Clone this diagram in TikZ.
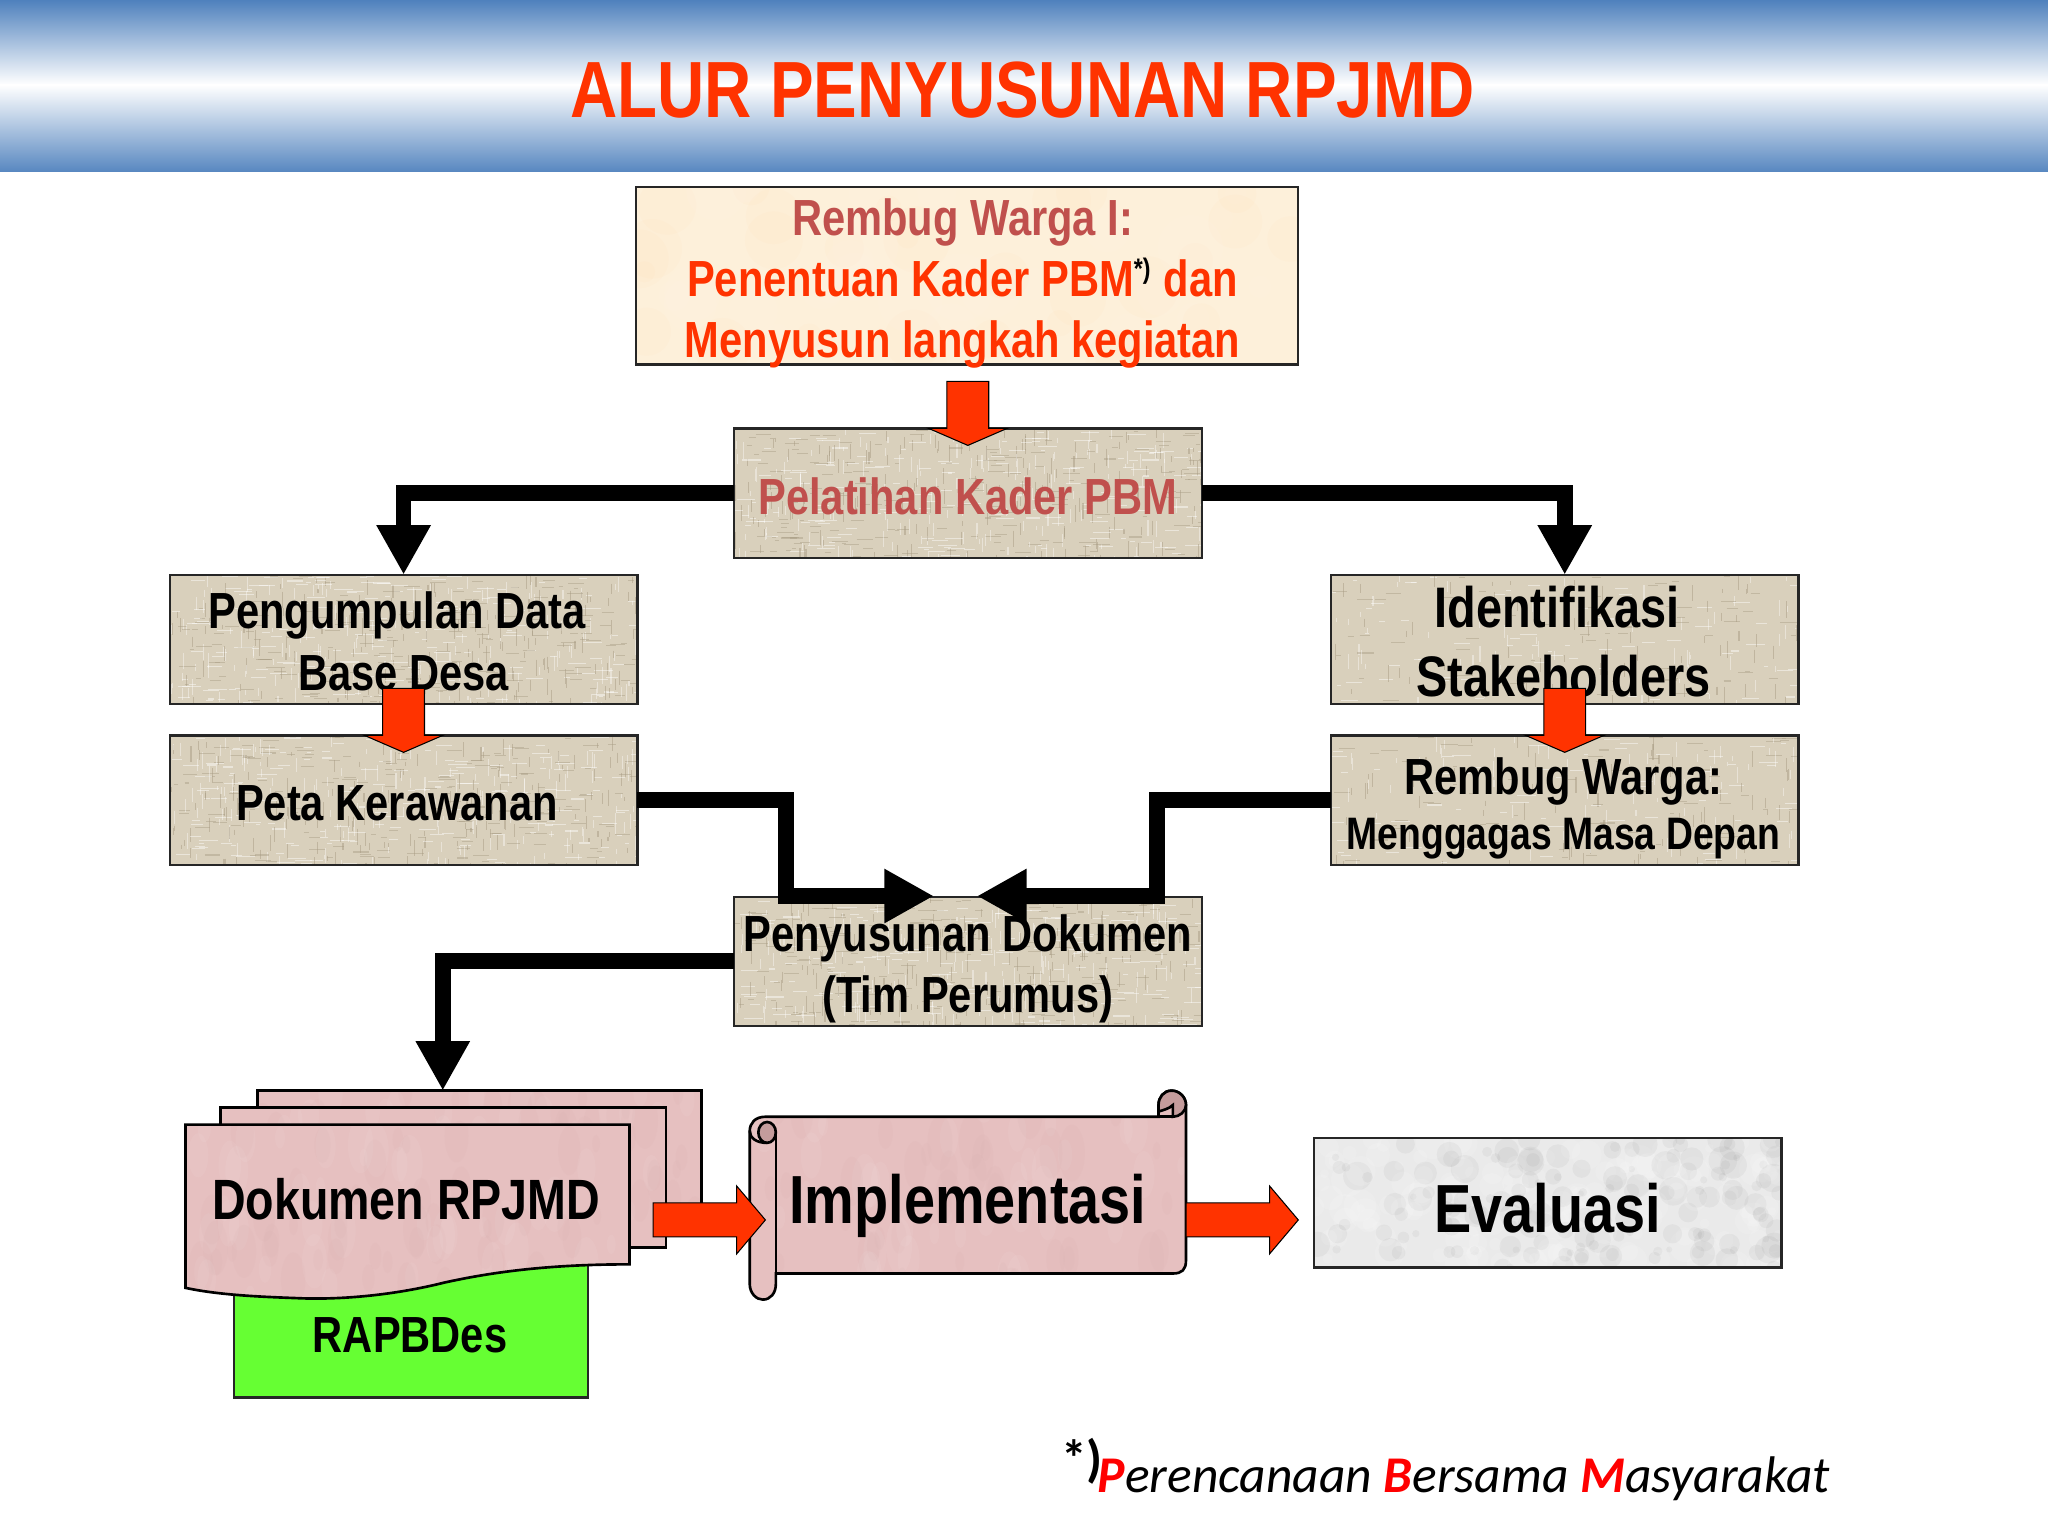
\documentclass[tikz,border=0pt]{standalone}
\usepackage{fontspec}
\setmainfont{Liberation Sans}[FakeStretch=0.82]
\newfontfamily\footfont{Carlito}
\usetikzlibrary{calc,arrows.meta}
\def\u{0.37023pt}
\definecolor{orangered}{HTML}{FF3300}
\definecolor{brickred}{HTML}{C0504D}
\definecolor{beige}{HTML}{FDF0DA}
\definecolor{burlap}{HTML}{D9D0BC}
\definecolor{burlapdark}{HTML}{A89C84}
\definecolor{rosepaper}{HTML}{E6C0C0}
\definecolor{rosedark}{HTML}{C49C9C}
\definecolor{limefill}{HTML}{66FF33}
\definecolor{marble}{HTML}{EAEAEA}
\definecolor{bandblue}{HTML}{4F81BD}
\tikzset{
  x=\u,y=-\u,
  boxbase/.style={draw=black!85,line width=0.65pt,inner sep=0pt,outer sep=0pt,minimum width=358*\u,minimum height=99*\u},
  burlapbox/.style={boxbase,fill=burlap},
  rose/.style={draw=black,line width=0.75pt,fill=rosepaper},
  lineblack/.style={draw=black,line width=12*\u,line join=miter,-{Triangle[length=38*\u,width=39*\u]}},
  orangearrow/.style={draw=black,line width=0.3pt,fill=orangered,line join=miter},
  label/.style={inner sep=0pt,outer sep=0pt,align=center,font=\bfseries,text=black},
}
\newcommand\blockarrow[5]{%
  \coordinate (hb) at ($(#2)!#5*\u!(#1)$);
  \filldraw[orangearrow] ($(#1)!#3*\u!90:(#2)$) -- ($(hb)!#3*\u!90:(#2)$) -- ($(hb)!#4*\u!90:(#2)$) -- (#2) -- ($(hb)!#4*\u!-90:(#2)$) -- ($(hb)!#3*\u!-90:(#2)$) -- ($(#1)!#3*\u!-90:(#2)$) -- cycle;}
% woven texture over a named rectangular node
\newcommand\weave[2]{%
  \begin{scope}
  \clip (#1.north west) rectangle (#1.south east);
  \path (#1.north west) coordinate (wo);
  \foreach \i in {1,...,#2}{%
    \pgfmathsetmacro\px{rnd*358}\pgfmathsetmacro\py{rnd*99}\pgfmathsetmacro\pl{3+rnd*12}
    \draw[white,opacity=.45,line width=.3pt] ($(wo)+(\px,\py)$) -- ++(\pl,0);
    \pgfmathsetmacro\px{rnd*358}\pgfmathsetmacro\py{rnd*99}\pgfmathsetmacro\pl{3+rnd*10}
    \draw[burlapdark,opacity=.5,line width=.3pt] ($(wo)+(\px,\py)$) -- ++(0,\pl);
    \pgfmathsetmacro\px{rnd*358}\pgfmathsetmacro\py{rnd*99}\pgfmathsetmacro\pl{3+rnd*10}
    \draw[burlapdark,opacity=.45,line width=.3pt] ($(wo)+(\px,\py)$) -- ++(\pl,0);
    \pgfmathsetmacro\px{rnd*358}\pgfmathsetmacro\py{rnd*99}\pgfmathsetmacro\pl{3+rnd*10}
    \draw[white,opacity=.4,line width=.3pt] ($(wo)+(\px,\py)$) -- ++(0,\pl);
  }
  \end{scope}
  \draw[black!85,line width=0.65pt] (#1.north west) rectangle (#1.south east);}
% mottled paper: path, x0, y0, w, h
\newcommand\rosefill[5]{%
  \fill[rosepaper] #1;
  \begin{scope}
  \clip #1;
  \foreach \i in {1,...,45}{%
    \pgfmathsetmacro\px{#2+rnd*#4}\pgfmathsetmacro\py{#3+rnd*#5}\pgfmathsetmacro\pr{3+rnd*7}
    \fill[rosedark,opacity=.06] (\px,\py) ellipse [x radius=\pr,y radius=2.2*\pr];
    \pgfmathsetmacro\px{#2+rnd*#4}\pgfmathsetmacro\py{#3+rnd*#5}\pgfmathsetmacro\pr{3+rnd*7}
    \fill[white,opacity=.06] (\px,\py) ellipse [x radius=\pr,y radius=2.2*\pr];
  }
  \end{scope}
  \draw[rose,fill=none] #1;}
\begin{document}
\begin{tikzpicture}
\pgfmathsetseed{4242}
\useasboundingbox (0,0) rectangle (1568,1176);
% header band
\shade[top color=bandblue,bottom color=white] (0,0) rectangle (1568,65);
\shade[top color=white,bottom color=bandblue!95!white] (0,65) rectangle (1568,131.5);
\node[label,text=orangered,font=\bfseries\fontsize{22.6}{27}\selectfont] (title) at (783,69) {ALUR PENYUSUNAN RPJMD};
% boxes
\node[boxbase,fill=beige,minimum width=507*\u,minimum height=136*\u] (rembugA) at (740.5,211) {};
\begin{scope}
\clip (rembugA.north west) rectangle (rembugA.south east);
\foreach \i in {1,...,30}{%
  \pgfmathsetmacro\px{487+rnd*507}\pgfmathsetmacro\py{143+rnd*136}\pgfmathsetmacro\pr{8+rnd*18}
  \fill[white,opacity=.05] (\px,\py) circle (\pr);
  \pgfmathsetmacro\px{487+rnd*507}\pgfmathsetmacro\py{143+rnd*136}\pgfmathsetmacro\pr{8+rnd*18}
  \fill[orange!40!beige,opacity=.04] (\px,\py) circle (\pr);
}
\end{scope}
\draw[black!85,line width=0.65pt] (rembugA.north west) rectangle (rembugA.south east);
\node[burlapbox] (pelatihan) at (741,377.5) {};
\node[burlapbox] (pengumpulan) at (309,489.5) {};
\node[burlapbox] (peta) at (309,612.5) {};
\node[burlapbox] (identifikasi) at (1198,489.5) {};
\node[burlapbox] (rembugB) at (1198,612.5) {};
\node[burlapbox] (penyusunan) at (741,736) {};
\weave{pelatihan}{170}
\weave{pengumpulan}{170}
\weave{peta}{170}
\weave{identifikasi}{70}
\weave{rembugB}{70}
\weave{penyusunan}{170}
\node[boxbase,fill=marble] (evaluasi) at (1185,921) {};
\begin{scope}
\clip (evaluasi.north west) rectangle (evaluasi.south east);
\foreach \i in {1,...,160}{%
  \pgfmathsetmacro\px{1006+rnd*358}\pgfmathsetmacro\py{872+rnd*99}\pgfmathsetmacro\pr{2+rnd*9}
  \fill[black,opacity=.035] (\px,\py) circle (\pr);
  \pgfmathsetmacro\px{1006+rnd*358}\pgfmathsetmacro\py{872+rnd*99}\pgfmathsetmacro\pr{3+rnd*10}
  \fill[white,opacity=.12] (\px,\py) circle (\pr);
}
\end{scope}
\draw[black!85,line width=0.65pt] (evaluasi.north west) rectangle (evaluasi.south east);
% green box and document stack
\node[boxbase,fill=limefill,minimum width=271*\u,minimum height=130*\u] (rapbdes) at (314.5,1005) {};
\rosefill{(197,835) rectangle (537,942)}{197}{835}{340}{107}
\rosefill{(169,848) rectangle (510,955)}{169}{848}{341}{107}
\rosefill{(142,861) -- (482,861) -- (482,968) .. controls (430,968) and (385,972) .. (340,982) .. controls (300,992) and (260,995) .. (231,994) .. controls (205,993) and (170,992) .. (142,986) -- cycle}{142}{861}{340}{133}
% scroll
\rosefill{(594,975) -- (898,975) .. controls (905,975) and (908,972) .. (908,965) -- (908,846) .. controls (908,840) and (903,835) .. (897,835) .. controls (891,835) and (887,840) .. (887,846) -- (887,855) -- (586,855) .. controls (578,855) and (574,860) .. (574,866) -- (574,983) .. controls (574,990) and (579,995) .. (584,995) .. controls (590,995) and (594,990) .. (594,983) -- cycle}{574}{835}{334}{160}
\filldraw[draw=black,line width=0.75pt,fill=rosedark] (887,851) -- (887,846) .. controls (887,840) and (891,835) .. (897,835) .. controls (903,835) and (908,840) .. (908,846) .. controls (908,851) and (903,855) .. (898,855) -- (898,846) .. controls (895,849) and (890,850) .. (887,851) -- cycle;
\draw[black,line width=0.75pt] (887,855) -- (898,855);
\draw[black,line width=0.75pt] (594,975) -- (594,867);
\filldraw[draw=black,line width=0.75pt,fill=rosedark] (587.3,867) ellipse [x radius=6.7,y radius=8];
\draw[black,line width=0.75pt] (574,866) .. controls (574,871) and (579,875) .. (587,875);
% black connectors
\coordinate (penyL) at (715,686);
\coordinate (penyR) at (748,686);
\coordinate (docTop) at (339,835);
\draw[lineblack] (pelatihan.west) -| (pengumpulan.north);
\draw[lineblack] (pelatihan.east) -| (identifikasi.north);
\draw[lineblack] (peta.east) -- (602,612.5) -- (602,686) -- (penyL);
\draw[lineblack] (rembugB.west) -- (886,612.5) -- (886,686) -- (penyR);
\draw[lineblack] (penyusunan.west) -| (docTop);
% labels
\node[label,text=orangered,font=\bfseries\fontsize{14.4}{17.4}\selectfont] (t1) at (737,217) {\textcolor{brickred}{Rembug Warga I:}\\Penentuan Kader PBM\textsuperscript{\textcolor{black}{\fontsize{8}{8}\selectfont *)}} dan\\Menyusun langkah kegiatan};
\node[label,text=brickred,font=\bfseries\fontsize{14.4}{17.4}\selectfont] (t2) at (741,380) {Pelatihan Kader PBM};
\node[label,font=\bfseries\fontsize{14.4}{17.4}\selectfont] (t3) at (309,491) {Pengumpulan Data\hspace*{3.7pt}\\Base Desa};
\node[label,font=\bfseries\fontsize{14.4}{17.4}\selectfont] (t4) at (304,615) {Peta Kerawanan};
\node[label,font=\bfseries\fontsize{16.2}{19.6}\selectfont] (t5) at (1197,491) {Identifikasi\hspace*{3.7pt}\\Stakeholders};
\node[label,font=\bfseries\fontsize{14.4}{17}\selectfont] (t6) at (1197,598) {Rembug Warga:};
\node[label,font=\bfseries\fontsize{12.9}{16}\selectfont] (t7) at (1197,642) {Menggagas Masa Depan};
\node[label,font=\bfseries\fontsize{14.4}{17.4}\selectfont] (t8) at (741,742) {Penyusunan Dokumen\\(Tim Perumus)};
\node[label,font=\bfseries\fontsize{16.1}{19}\selectfont] (t9) at (311,918) {Dokumen RPJMD};
\node[label,font=\bfseries\fontsize{14.4}{17}\selectfont] (t10) at (314,1022) {RAPBDes};
\node[label,font=\bfseries\fontsize{19.3}{24}\selectfont] (t11) at (741,923) {Implementasi};
\node[label,font=\bfseries\fontsize{19.3}{24}\selectfont] (t12) at (1185,925) {Evaluasi};
\node[inner sep=0pt,anchor=west,font=\footfont\itshape\fontsize{14.6}{17}\selectfont] (foot) at (812,1125) {\raisebox{4.5pt}{\upshape\bfseries *)}\hspace{-1.5pt}\textcolor{red}{\bfseries P}erencanaan \textcolor{red}{\bfseries B}ersama \textcolor{red}{\bfseries M}asyarakat};
% orange arrows
\coordinate (aS) at (741,292);
\coordinate (aE) at (741,341);
\blockarrow{aS}{aE}{16}{30}{13}
\coordinate (bS) at (309,527);
\coordinate (bE) at (309,576);
\blockarrow{bS}{bE}{16}{30}{13}
\coordinate (cS) at (1198,527);
\coordinate (cE) at (1198,576);
\blockarrow{cS}{cE}{16}{30}{13}
\coordinate (dS) at (500,934);
\coordinate (dE) at (586,934);
\blockarrow{dS}{dE}{13}{26}{22}
\coordinate (eS) at (908,934);
\coordinate (eE) at (994,934);
\blockarrow{eS}{eE}{13}{26}{22}
\end{tikzpicture}
\end{document}
